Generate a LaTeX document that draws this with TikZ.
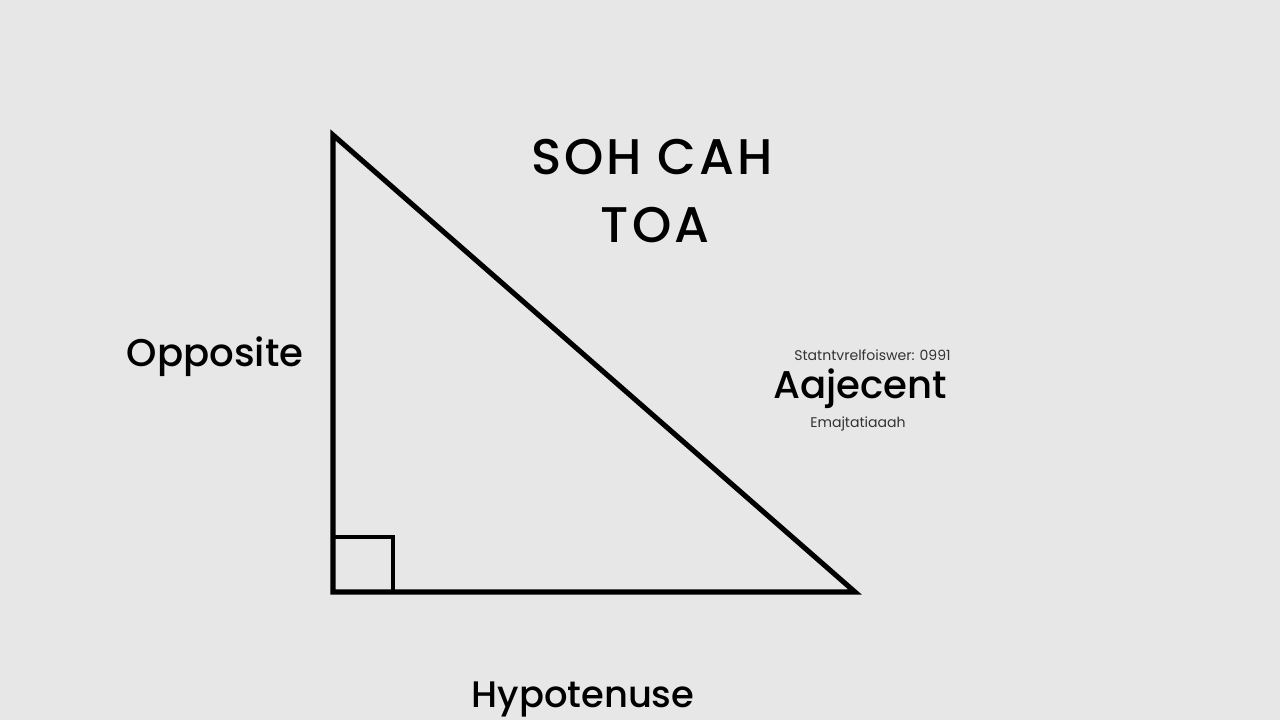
\documentclass[tikz,border=0pt]{standalone}
\usepackage{fontspec}
\setmainfont{Poppins}
\newfontfamily\medfont{Poppins}[UprightFont=* Medium]
\newfontfamily\titlefont{Poppins}[UprightFont=* Medium, LetterSpace=6]
\usepackage{tikz}
\definecolor{paper}{HTML}{E7E7E7}
\definecolor{faint}{HTML}{333333}
\tikzstyle{side} = [draw=black, line width=2.9pt, line join=miter]
\tikzstyle{rightmark} = [draw=black, line width=2.4pt]
\tikzstyle{title} = [font=\titlefont\fontsize{28.5}{31}\selectfont, text=black, inner sep=0pt]
\tikzstyle{sidelabel} = [font=\medfont\fontsize{22}{26}\selectfont, text=black, inner sep=0pt]
\tikzstyle{tinytext} = [font=\fontsize{8}{9}\selectfont, text=faint, inner sep=0pt]

\begin{document}
\begin{tikzpicture}
\fill[paper] (0,0) rectangle (25.6,14.4);
\useasboundingbox (0,0) rectangle (25.6,14.4);
% corners of the triangle
\coordinate (top) at (6.66,11.7);
\coordinate (corner) at (6.66,2.56);
\coordinate (tip) at (17.1,2.56);
\draw[side] (top) -- (corner) -- (tip) -- cycle;
\draw[rightmark] (corner) rectangle ++(1.2,1.1);
% labels
\node[title] (soh) at (13.04,11.26) {SOH CAH};
\node[title] (toa) at (13.1,9.9) {TOA};
\node[sidelabel] (opp) at (4.3,7.26) {Opposite};
\node[sidelabel] (adj) at (17.2,6.63) {Aajecent};
\node[tinytext] (adjtop) at (17.45,7.3) {Statntvrelfoiswer: 0991};
\node[tinytext] (adjbot) at (17.16,5.92) {Emajtatiaaah};
\node[sidelabel, font=\medfont\fontsize{21}{25}\selectfont] (hyp) at (11.66,0.4) {Hypotenuse};
\end{tikzpicture}
\end{document}
